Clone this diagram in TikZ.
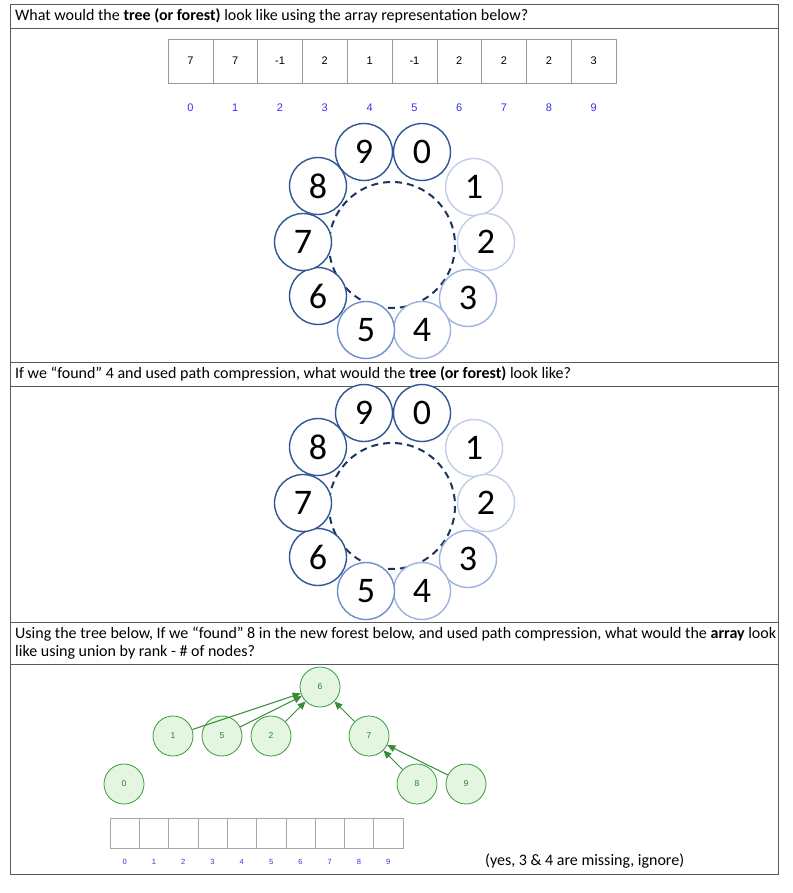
\documentclass[tikz,border=0pt]{standalone}
\usepackage{fontspec}
\setmainfont{Carlito}
\newfontfamily\arialf{Liberation Sans}
\usetikzlibrary{arrows.meta}
\definecolor{dkb}{HTML}{2F5597}
\definecolor{mdb}{HTML}{6F8FCC}
\definecolor{ltb}{HTML}{9DB3DE}
\definecolor{vlb}{HTML}{C0CEEA}
\definecolor{gline}{HTML}{3C9A3C}
\definecolor{gfill}{HTML}{E4F6E2}
\definecolor{idxblue}{HTML}{3333EE}
\tikzset{
  hdr/.style={anchor=west,font=\fontsize{16}{18}\selectfont,inner sep=0},
  ringnode/.style={circle,draw=#1,line width=1.4pt,fill=white,minimum size=57pt,inner sep=0,font=\fontsize{36}{36}\selectfont},
  cell/.style={draw=gray!80,minimum width=44.8pt,minimum height=44pt,inner sep=0,font=\arialf\fontsize{11}{11}\selectfont},
  idx/.style={text=idxblue,font=\arialf\fontsize{11}{11}\selectfont},
  gnode/.style={circle,draw=gline,fill=gfill,line width=0.8pt,minimum size=40pt,inner sep=0,text=gline!80!black,font=\arialf\fontsize{8.5}{8.5}\selectfont},
  garrow/.style={draw=gline!90!black,line width=1pt,-{Triangle[length=8pt,width=7pt]}},
  bcell/.style={draw=gray!70,minimum width=29.3pt,minimum height=30pt,inner sep=0},
  bidx/.style={text=idxblue,font=\arialf\fontsize{7.5}{7.5}\selectfont},
}
\begin{document}
\begin{tikzpicture}[x=1pt,y=-1pt]
\useasboundingbox (0,0) rectangle (792,893);
\fill[white] (0,0) rectangle (792,893);
% table
\draw[gray!70!black,line width=0.6pt] (10,4) rectangle (778,874);
\foreach \y in {28,362,386,622,664} \draw[gray!70!black,line width=0.6pt] (10,\y) -- (778,\y);
\node[hdr] (h1) at (15,16) {What would the \textbf{tree (or forest)} look like using the array representation below?};
\node[hdr] (h2) at (15,374) {If we “found” 4 and used path compression, what would the \textbf{tree (or forest)} look like?};
\node[hdr] (h3) at (15,634) {Using the tree below, If we “found” 8 in the new forest below, and used path compression, what would the \textbf{array} look};
\node[hdr] (h4) at (15,652) {like using union by rank - \# of nodes?};
% top array
\foreach \v [count=\i from 0] in {7,7,-1,2,1,-1,2,2,2,3}{
  \node[cell] (c\i) at (190.4+44.8*\i,61) {\v};
  \node[idx] (ci\i) at (190.4+44.8*\i,108) {\i};
}
% rings
\foreach \oy/\p in {0/a,261/b}{
  \draw[dkb!60!black,line width=2pt,dash pattern=on 7pt off 5pt] (392,245+\oy) circle (63);
  \node[ringnode=vlb] (\p1) at (474,187+\oy) {1};
  \node[ringnode=vlb] (\p2) at (486,242+\oy) {2};
  \node[ringnode=ltb] (\p3) at (468,298+\oy) {3};
  \node[ringnode=ltb] (\p4) at (422,330+\oy) {4};
  \node[ringnode=mdb] (\p5) at (366,330+\oy) {5};
  \node[ringnode=dkb] (\p6) at (318,296+\oy) {6};
  \node[ringnode=dkb] (\p7) at (303,242+\oy) {7};
  \node[ringnode=dkb] (\p8) at (318,186+\oy) {8};
  \node[ringnode=dkb] (\p9) at (364,152+\oy) {9};
  \node[ringnode=dkb] (\p0) at (422,152+\oy) {0};
}
% bottom tree
\node[gnode] (g6) at (320,687) {6};
\node[gnode] (g1) at (173,736) {1};
\node[gnode] (g5) at (222,736) {5};
\node[gnode] (g2) at (271,736) {2};
\node[gnode] (g7) at (369,736) {7};
\node[gnode] (g0) at (124,784) {0};
\node[gnode] (g8) at (417,784) {8};
\node[gnode] (g9) at (466,784) {9};
\draw[garrow] (g1) -- (g6);
\draw[garrow] (g5) -- (g6);
\draw[garrow] (g2) -- (g6);
\draw[garrow] (g7) -- (g6);
\draw[garrow] (g8) -- (g7);
\draw[garrow] (g9) -- (g7);
\foreach \i in {0,...,9}{
  \node[bcell] (b\i) at (124.6+29.3*\i,833) {};
  \node[bidx] (bi\i) at (124.6+29.3*\i,862) {\i};
}
\node[anchor=west,inner sep=0,font=\fontsize{16}{18}\selectfont] (note) at (485,861) {(yes, 3 \& 4 are missing, ignore)};
\end{tikzpicture}
\end{document}
